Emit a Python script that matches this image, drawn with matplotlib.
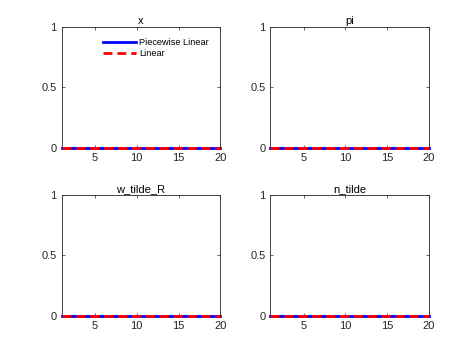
import matplotlib.pyplot as plt

plt.rcParams['font.family'] = ['Liberation Sans', 'DejaVu Sans']

# horizon and impulse responses (all zero)
periods = list(range(1, 21))
titles = ['x', 'pi', 'w_tilde_R', 'n_tilde']
piecewise = {
    'x':         [0, 0, 0, 0, 0, 0, 0, 0, 0, 0, 0, 0, 0, 0, 0, 0, 0, 0, 0, 0],
    'pi':        [0, 0, 0, 0, 0, 0, 0, 0, 0, 0, 0, 0, 0, 0, 0, 0, 0, 0, 0, 0],
    'w_tilde_R': [0, 0, 0, 0, 0, 0, 0, 0, 0, 0, 0, 0, 0, 0, 0, 0, 0, 0, 0, 0],
    'n_tilde':   [0, 0, 0, 0, 0, 0, 0, 0, 0, 0, 0, 0, 0, 0, 0, 0, 0, 0, 0, 0],
}
linear = {
    'x':         [0, 0, 0, 0, 0, 0, 0, 0, 0, 0, 0, 0, 0, 0, 0, 0, 0, 0, 0, 0],
    'pi':        [0, 0, 0, 0, 0, 0, 0, 0, 0, 0, 0, 0, 0, 0, 0, 0, 0, 0, 0, 0],
    'w_tilde_R': [0, 0, 0, 0, 0, 0, 0, 0, 0, 0, 0, 0, 0, 0, 0, 0, 0, 0, 0, 0],
    'n_tilde':   [0, 0, 0, 0, 0, 0, 0, 0, 0, 0, 0, 0, 0, 0, 0, 0, 0, 0, 0, 0],
}

fig = plt.figure(figsize=(4.74, 3.55), dpi=100)
# matlab default subplot positions
positions = [(0.13, 0.5838, 0.3347, 0.3412), (0.5703, 0.5838, 0.3347, 0.3412),
             (0.13, 0.11, 0.3347, 0.3412), (0.5703, 0.11, 0.3347, 0.3412)]
edge = (0.15, 0.15, 0.15)

for i, name in enumerate(titles):
    ax = fig.add_axes(positions[i])
    ax.plot(periods, piecewise[name], color='blue', linestyle='-', linewidth=2,
            label='Piecewise Linear', clip_on=False, zorder=3)
    ax.plot(periods, linear[name], color='red', linestyle=(0, (3.2, 1.8)), linewidth=2,
            label='Linear', clip_on=False, zorder=4)
    ax.set_xlim(1, 20)
    ax.set_ylim(0, 1)
    ax.set_xticks([5, 10, 15, 20])
    ax.set_yticks([0, 0.5, 1])
    ax.set_yticklabels(['0', '0.5', '1'])
    ax.set_title(name, fontsize=8, pad=2, color='black')
    ax.tick_params(direction='in', length=2, width=0.5, labelsize=8, colors=edge,
                   top=True, right=True, pad=3.5)
    for sp in ax.spines.values():
        sp.set_color(edge)
        sp.set_linewidth(0.6)
    if i == 0:
        ax.legend(loc='upper left', bbox_to_anchor=(0.26, 0.905), frameon=False,
                  fontsize=6.6, handlelength=3.6, handletextpad=0.35,
                  borderpad=0, borderaxespad=0, labelspacing=0.22)

plt.savefig('out.png', dpi=100)
